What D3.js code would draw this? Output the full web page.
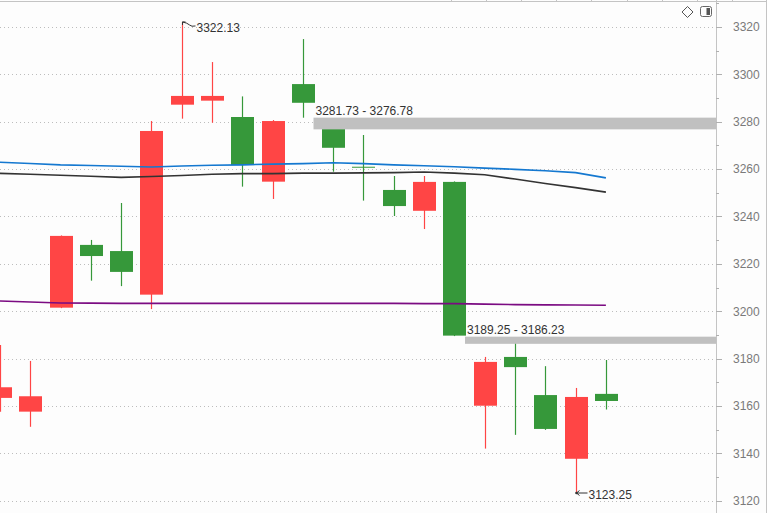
<!DOCTYPE html>
<html><head><meta charset="utf-8">
<script src="https://cdn.jsdelivr.net/npm/d3@7"></script>
<style>html,body{margin:0;padding:0;background:#fdfdfd;}svg{display:block;font-family:"Liberation Sans",Arial,sans-serif;}</style>
</head><body>
<script>
// Candle data (index = bar position)
const opens  = [3163.4,3157.6,3201.5,3228.0,3225.4,3207.0,3287.2,3288.9,3282.0,3254.7,3295.9,3279.0,3261.0,3251.2,3242.4,3254.6,3160.1,3180.7,3164.6,3137.7,3165.1];
const highs  = [3185.7,3179.0,3232.0,3230.1,3245.7,3280.3,3322.13,3305.2,3290.7,3280.7,3314.9,3281.0,3274.4,3257.1,3257.1,3254.8,3180.7,3187.5,3176.8,3167.6,3179.4];
const lows   = [3157.6,3151.2,3201.3,3212.9,3210.6,3200.9,3281.3,3279.6,3252.6,3247.4,3281.7,3258.9,3246.7,3240.2,3234.7,3189.5,3142.0,3147.8,3149.9,3123.25,3158.5];
const closes = [3167.9,3164.1,3231.8,3223.3,3216.6,3276.1,3290.9,3290.9,3261.7,3280.3,3288.0,3269.0,3260.7,3244.4,3254.6,3189.7,3178.6,3176.4,3150.3,3163.8,3162.1];
// Moving averages
const maBlue   = [3262.9,3262.4,3261.8,3261.5,3261.2,3260.9,3261.3,3261.6,3261.8,3262.1,3262.3,3262.7,3262.3,3261.8,3261.4,3261.0,3260.4,3259.9,3259.3,3258.5,3256.3];
const maBlack  = [3258.2,3257.8,3257.4,3257.0,3256.5,3256.9,3257.3,3257.8,3258.1,3258.1,3258.3,3258.3,3258.4,3258.5,3258.8,3258.3,3257.6,3255.8,3253.9,3252.2,3250.3];
const maPurple = [3204.3,3203.9,3203.5,3203.4,3203.3,3203.3,3203.3,3203.3,3203.3,3203.3,3203.3,3203.3,3203.3,3203.3,3203.2,3203.2,3203.0,3202.8,3202.7,3202.6,3202.5];
// Zones
const zones = [
  {hi:3281.73, lo:3276.78, start:10.35, label:"3281.73 - 3276.78"},
  {hi:3189.25, lo:3186.23, start:15.35, label:"3189.25 - 3186.23"}
];
const yTicks = [3120,3140,3160,3180,3200,3220,3240,3260,3280,3300,3320];
const yMinor = [3130,3150,3170,3190,3210,3230,3250,3270,3290,3310,3330];
const highLabel = {i:6, v:3322.13, text:"3322.13"};
const lowLabel  = {i:19, v:3123.25, text:"3123.25"};

const W = 767, H = 513, axisX = 716;
const svg = d3.select("body").append("svg").attr("width",W).attr("height",H);
svg.append("rect").attr("width",W).attr("height",H).attr("fill","#fdfdfd");

const x = d3.scaleLinear().domain([0,20]).range([-0.1, 605.9]);
const y = d3.scaleLinear().domain([3120,3320]).range([500.7,27]);
const bw = 23;

// grid
svg.append("g").selectAll("line").data(yTicks).join("line")
  .attr("x1",0).attr("x2",axisX).attr("y1",d=>Math.round(y(d))+0.5).attr("y2",d=>Math.round(y(d))+0.5)
  .attr("stroke","#bdbdbd").attr("stroke-width",1).attr("stroke-dasharray","1,3");

// top border and ticks
svg.append("line").attr("x1",0).attr("x2",W).attr("y1",1.5).attr("y2",1.5).attr("stroke","#c4c4c4");
svg.append("g").selectAll("line").data(d3.range(9)).join("line")
  .attr("x1",d=>Math.round(451+35.1*d)+0.5).attr("x2",d=>Math.round(451+35.1*d)+0.5)
  .attr("y1",0).attr("y2",2).attr("stroke","#c4c4c4");
svg.append("line").attr("x1",766.5).attr("x2",766.5).attr("y1",0).attr("y2",H).attr("stroke","#c4c4c4");

// candles
const idx = d3.range(opens.length);
const col = i => closes[i] >= opens[i] ? "#ff4545" : "#36983a";
const g = svg.append("g");
g.selectAll("line.w").data(idx).join("line")
  .attr("x1",i=>Math.round(x(i))+0.5).attr("x2",i=>Math.round(x(i))+0.5)
  .attr("y1",i=>y(highs[i])).attr("y2",i=>y(lows[i]))
  .attr("stroke",col).attr("stroke-width",1.2);
g.selectAll("rect").data(idx).join("rect")
  .attr("x",i=>Math.round(x(i))-11).attr("width",bw)
  .attr("y",i=>y(Math.max(opens[i],closes[i])))
  .attr("height",i=>Math.max(1,y(Math.min(opens[i],closes[i]))-y(Math.max(opens[i],closes[i]))))
  .attr("fill",col);

// MA lines (on top of candles)
const line = d3.line().x((d,i)=>x(i)).y(d=>y(d));
[[maPurple,"#7b0b82"],[maBlack,"#333333"],[maBlue,"#1478d0"]].forEach(([arr,c])=>{
  svg.append("path").datum(arr).attr("d",line).attr("fill","none").attr("stroke",c).attr("stroke-width",1.6);
});

// zones
zones.forEach(z=>{
  const x0 = x(z.start);
  svg.append("rect").attr("x",x0).attr("width",axisX-x0).attr("y",y(z.hi)).attr("height",y(z.lo)-y(z.hi)).attr("fill","#c0c0c0");
  svg.append("text").attr("x",x0+2).attr("y",y(z.hi)-3).attr("font-size",12).attr("fill","#333").text(z.label);
});

// high / low annotations
{
  const hx = Math.round(x(highLabel.i))+0.5, hy = y(highLabel.v);
  svg.append("path").attr("d",`M${hx},${hy} L${hx},${hy+3} M${hx},${hy} L${hx+3},${hy} M${hx},${hy} Q${hx+5},${hy+1} ${hx+7},${hy+3} T${hx+13},${hy+4}`)
    .attr("fill","none").attr("stroke","#333").attr("stroke-width",1);
  svg.append("text").attr("x",hx+14).attr("y",hy+10).attr("font-size",12).attr("fill","#333").text(highLabel.text);
  const lx = Math.round(x(lowLabel.i))+0.5, ly = y(lowLabel.v);
  svg.append("circle").attr("cx",lx).attr("cy",ly).attr("r",1.3).attr("fill","#333");
  svg.append("path").attr("d",`M${lx},${ly} L${lx+11},${ly} M${lx},${ly} L${lx+3},${ly-2.5} M${lx},${ly} L${lx+3},${ly+2.5}`)
    .attr("fill","none").attr("stroke","#333").attr("stroke-width",1);
  svg.append("text").attr("x",lx+12).attr("y",ly+6).attr("font-size",12).attr("fill","#333").text(lowLabel.text);
}

// right axis
svg.append("line").attr("x1",axisX+0.5).attr("x2",axisX+0.5).attr("y1",0).attr("y2",H).attr("stroke","#c4c4c4");
const ax = svg.append("g");
ax.selectAll("line.maj").data(yTicks).join("line")
  .attr("x1",axisX).attr("x2",axisX+6).attr("y1",d=>Math.round(y(d))+0.5).attr("y2",d=>Math.round(y(d))+0.5).attr("stroke","#b0b0b0");
ax.selectAll("line.min").data(yMinor).join("line")
  .attr("x1",axisX).attr("x2",axisX+3).attr("y1",d=>Math.round(y(d))+0.5).attr("y2",d=>Math.round(y(d))+0.5).attr("stroke","#b0b0b0");
ax.selectAll("text").data(yTicks).join("text")
  .attr("x",733).attr("y",d=>y(d)+4.3).attr("font-size",12).attr("fill","#7a7a7a").text(d=>d);

// icons top-right
svg.append("path").attr("d","M687.5,6.5 L693,12 L687.5,17.5 L682,12 Z").attr("fill","none").attr("stroke","#555").attr("stroke-width",1);
svg.append("rect").attr("x",700.5).attr("y",6.5).attr("width",11).attr("height",10).attr("rx",2).attr("fill","none").attr("stroke","#666");
svg.append("rect").attr("x",706.5).attr("y",8).attr("width",3.5).attr("height",7).attr("fill","#555");
</script>
</body></html>
